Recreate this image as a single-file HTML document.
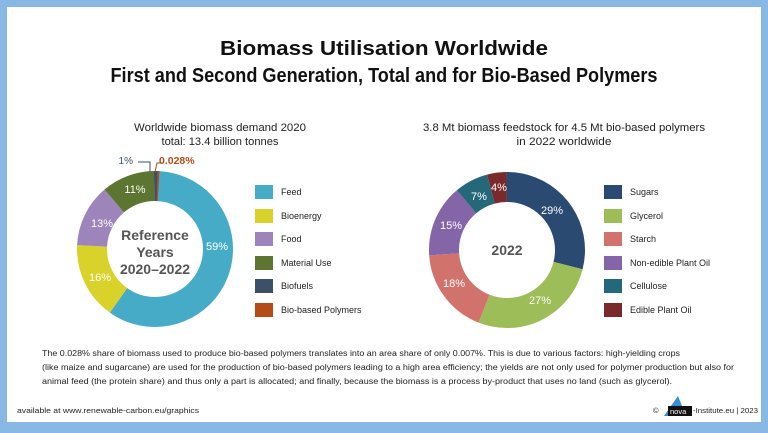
<!DOCTYPE html>
<html><head><meta charset="utf-8"><style>
html,body{margin:0;padding:0;background:#fff}
svg{display:block}
text{font-family:"Liberation Sans",sans-serif}
</style></head><body>
<svg width="768" height="433" viewBox="0 0 768 433" xmlns="http://www.w3.org/2000/svg">
<rect x="0" y="0" width="768" height="433" fill="#8ab8e4"/>
<rect x="7" y="7" width="754" height="415" fill="#fff"/>

<text x="384" y="55" font-size="20" font-weight="bold" text-anchor="middle" fill="#111" textLength="328" lengthAdjust="spacingAndGlyphs">Biomass Utilisation Worldwide</text>
<text x="384" y="82" font-size="20" font-weight="bold" text-anchor="middle" fill="#111" textLength="547" lengthAdjust="spacingAndGlyphs">First and Second Generation, Total and for Bio-Based Polymers</text>

<text x="220" y="131" font-size="11" text-anchor="middle" fill="#222" textLength="172" lengthAdjust="spacingAndGlyphs">Worldwide biomass demand 2020</text>
<text x="220" y="145" font-size="11" text-anchor="middle" fill="#222" textLength="117" lengthAdjust="spacingAndGlyphs">total: 13.4 billion tonnes</text>
<text x="564" y="131" font-size="11" text-anchor="middle" fill="#222" textLength="282" lengthAdjust="spacingAndGlyphs">3.8 Mt biomass feedstock for 4.5 Mt bio-based polymers</text>
<text x="564" y="145" font-size="11" text-anchor="middle" fill="#222" textLength="95" lengthAdjust="spacingAndGlyphs">in 2022 worldwide</text>

<!-- left donut -->
<g transform="translate(155,249) rotate(-90)" fill="none" stroke-width="30">
<circle r="63" pathLength="100" stroke="#45abc7" stroke-dasharray="59 41" stroke-dashoffset="-0.9"/>
<circle r="63" pathLength="100" stroke="#d9d22b" stroke-dasharray="16 84" stroke-dashoffset="-59.9"/>
<circle r="63" pathLength="100" stroke="#9d84ba" stroke-dasharray="13 87" stroke-dashoffset="-75.9"/>
<circle r="63" pathLength="100" stroke="#5c7530" stroke-dasharray="11 89" stroke-dashoffset="-88.9"/>
<circle r="63" pathLength="100" stroke="#3e5068" stroke-dasharray="1 99" stroke-dashoffset="-99.9"/>
<circle r="63" pathLength="100" stroke="#b54c17" stroke-dasharray="0.4 99.6" stroke-dashoffset="-0.5"/>
</g>
<polyline points="150,172 150,162 138,162" fill="none" stroke="#3e5068" stroke-width="1"/>
<polyline points="155,172 157,163 163,163" fill="none" stroke="#b54c17" stroke-width="1"/>
<text x="133" y="164" font-size="10" fill="#3e5068" text-anchor="end">1%</text>
<text x="159" y="164" font-size="10.5" font-weight="bold" fill="#b54c17">0.028%</text>
<g font-size="11" fill="#fff" text-anchor="middle">
<text x="217" y="250">59%</text>
<text x="100" y="281">16%</text>
<text x="102" y="227">13%</text>
<text x="135" y="193">11%</text>
</g>
<g font-size="14" font-weight="bold" fill="#555" text-anchor="middle">
<text x="155" y="240">Reference</text>
<text x="155" y="257">Years</text>
<text x="155" y="274">2020–2022</text>
</g>

<!-- right donut -->
<g transform="translate(507,250) rotate(-90)" fill="none" stroke-width="30">
<circle r="63" pathLength="100" stroke="#2a4a72" stroke-dasharray="29 71" stroke-dashoffset="0"/>
<circle r="63" pathLength="100" stroke="#9cbd57" stroke-dasharray="27 73" stroke-dashoffset="-29"/>
<circle r="63" pathLength="100" stroke="#d2726d" stroke-dasharray="18 82" stroke-dashoffset="-56"/>
<circle r="63" pathLength="100" stroke="#8465a8" stroke-dasharray="15 85" stroke-dashoffset="-74"/>
<circle r="63" pathLength="100" stroke="#25687a" stroke-dasharray="7 93" stroke-dashoffset="-89"/>
<circle r="63" pathLength="100" stroke="#7a2a2a" stroke-dasharray="4 96" stroke-dashoffset="-96"/>
</g>
<g font-size="11" fill="#fff" text-anchor="middle">
<text x="552" y="214">29%</text>
<text x="540" y="304">27%</text>
<text x="454" y="287">18%</text>
<text x="451" y="229">15%</text>
<text x="479" y="200">7%</text>
<text x="499" y="191">4%</text>
</g>
<text x="507" y="255" font-size="14" font-weight="bold" fill="#555" text-anchor="middle">2022</text>

<!-- legends -->
<g font-size="9" fill="#222">
<rect x="255" y="185" width="18" height="14" fill="#45abc7"/><text x="281" y="195">Feed</text>
<rect x="255" y="209" width="18" height="14" fill="#d9d22b"/><text x="281" y="219">Bioenergy</text>
<rect x="255" y="232" width="18" height="14" fill="#9d84ba"/><text x="281" y="242">Food</text>
<rect x="255" y="256" width="18" height="14" fill="#5c7530"/><text x="281" y="266">Material Use</text>
<rect x="255" y="279" width="18" height="14" fill="#3e5068"/><text x="281" y="289">Biofuels</text>
<rect x="255" y="303" width="18" height="14" fill="#b54c17"/><text x="281" y="313">Bio-based Polymers</text>

<rect x="604" y="185" width="18" height="14" fill="#2a4a72"/><text x="630" y="195">Sugars</text>
<rect x="604" y="209" width="18" height="14" fill="#9cbd57"/><text x="630" y="219">Glycerol</text>
<rect x="604" y="232" width="18" height="14" fill="#d2726d"/><text x="630" y="242">Starch</text>
<rect x="604" y="256" width="18" height="14" fill="#8465a8"/><text x="630" y="266">Non-edible Plant Oil</text>
<rect x="604" y="279" width="18" height="14" fill="#25687a"/><text x="630" y="289">Cellulose</text>
<rect x="604" y="303" width="18" height="14" fill="#7a2a2a"/><text x="630" y="313">Edible Plant Oil</text>
</g>

<g font-size="8" fill="#222">
<text x="42" y="356" textLength="638" lengthAdjust="spacingAndGlyphs">The 0.028% share of biomass used to produce bio-based polymers translates into an area share of only 0.007%. This is due to various factors: high-yielding crops</text>
<text x="42" y="370" textLength="692" lengthAdjust="spacingAndGlyphs">(like maize and sugarcane) are used for the production of bio-based polymers leading to a high area efficiency; the yields are not only used for polymer production but also for</text>
<text x="42" y="384" textLength="630" lengthAdjust="spacingAndGlyphs">animal feed (the protein share) and thus only a part is allocated; and finally, because the biomass is a process by-product that uses no land (such as glycerol).</text>
<text x="17" y="413" font-size="7.5" textLength="182" lengthAdjust="spacingAndGlyphs">available at www.renewable-carbon.eu/graphics</text>
<text x="653" y="413" font-size="7.5">©</text>
<polygon points="664,416 678,396 686,416" fill="#3a8fd0"/>
<rect x="668" y="406" width="24" height="10" fill="#111"/>
<text x="670" y="414" font-size="7.5" fill="#fff">nova</text>
<text x="693" y="413" font-size="7.5" textLength="65" lengthAdjust="spacingAndGlyphs">-Institute.eu | 2023</text>
</g>
</svg>
</body></html>
